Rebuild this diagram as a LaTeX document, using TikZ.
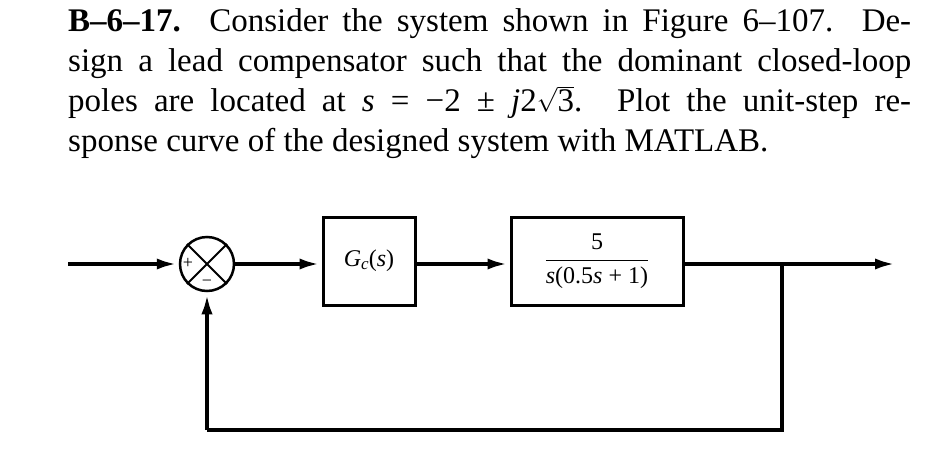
\documentclass[tikz,border=0pt]{standalone}
\usepackage{fontspec}
\setmainfont{Liberation Serif}
\usetikzlibrary{arrows.meta}
\begin{document}
\begin{tikzpicture}[x=1pt,y=-1pt,
  sig/.style={line width=4.5pt,-{Latex[length=22pt,width=11pt]}},
  wire/.style={line width=4.5pt},
  blk/.style={draw,line width=3pt,minimum height=88pt,inner sep=0pt}]
\useasboundingbox (0,0) rectangle (933,463);
\node[anchor=north west,inner sep=0pt,text width=843pt,align=justify] (txt) at (68,8)
 {\fontsize{33}{40}\selectfont\textbf{B--6--17.} Consider the system shown in Figure 6--107. De-\linebreak sign a lead compensator such that the dominant closed-loop\linebreak poles are located at \textit{s} = −2 ± \textit{j}2$\sqrt{\mbox{3}}$. Plot the unit-step re-\linebreak sponse curve of the designed system with MATLAB.\par};
\node[draw,circle,line width=2.5pt,minimum size=54pt,inner sep=0pt] (sum) at (207,264) {};
\draw[line width=2pt] (sum.north west) -- (sum.south east) (sum.north east) -- (sum.south west);
\node[font=\fontsize{18}{18}\selectfont] (plus) at (188,263) {+};
\node[font=\fontsize{18}{18}\selectfont] (minus) at (207,283) {−};
\node[blk,minimum width=92pt] (gc) at (369,261) {\fontsize{24}{24}\selectfont\textit{G}\raisebox{-3pt}{\fontsize{17}{17}\selectfont\textit{c}}(\textit{s})};
\node[blk,minimum width=172pt] (g) at (597,261) {\fontsize{24}{28}\selectfont$\displaystyle\frac{\mbox{5}}{\mbox{\textit{s}(0.5\textit{s} + 1)}}$};
\coordinate (in) at (68,264);
\coordinate (out) at (897,264);
\coordinate (tap) at (782,264);
\coordinate (bl) at (782,430);
\coordinate (br) at (207,430);
\draw[sig] (in) -- (sum.west);
\draw[sig] (sum.east) -- (gc.west |- sum.east);
\draw[sig] (gc.east |- sum.east) -- (g.west |- sum.east);
\draw[sig] (g.east |- sum.east) -- (out);
\draw[wire] (tap) -- (bl) -- (br);
\draw[sig] (br) -- (sum.south);
\end{tikzpicture}
\end{document}
